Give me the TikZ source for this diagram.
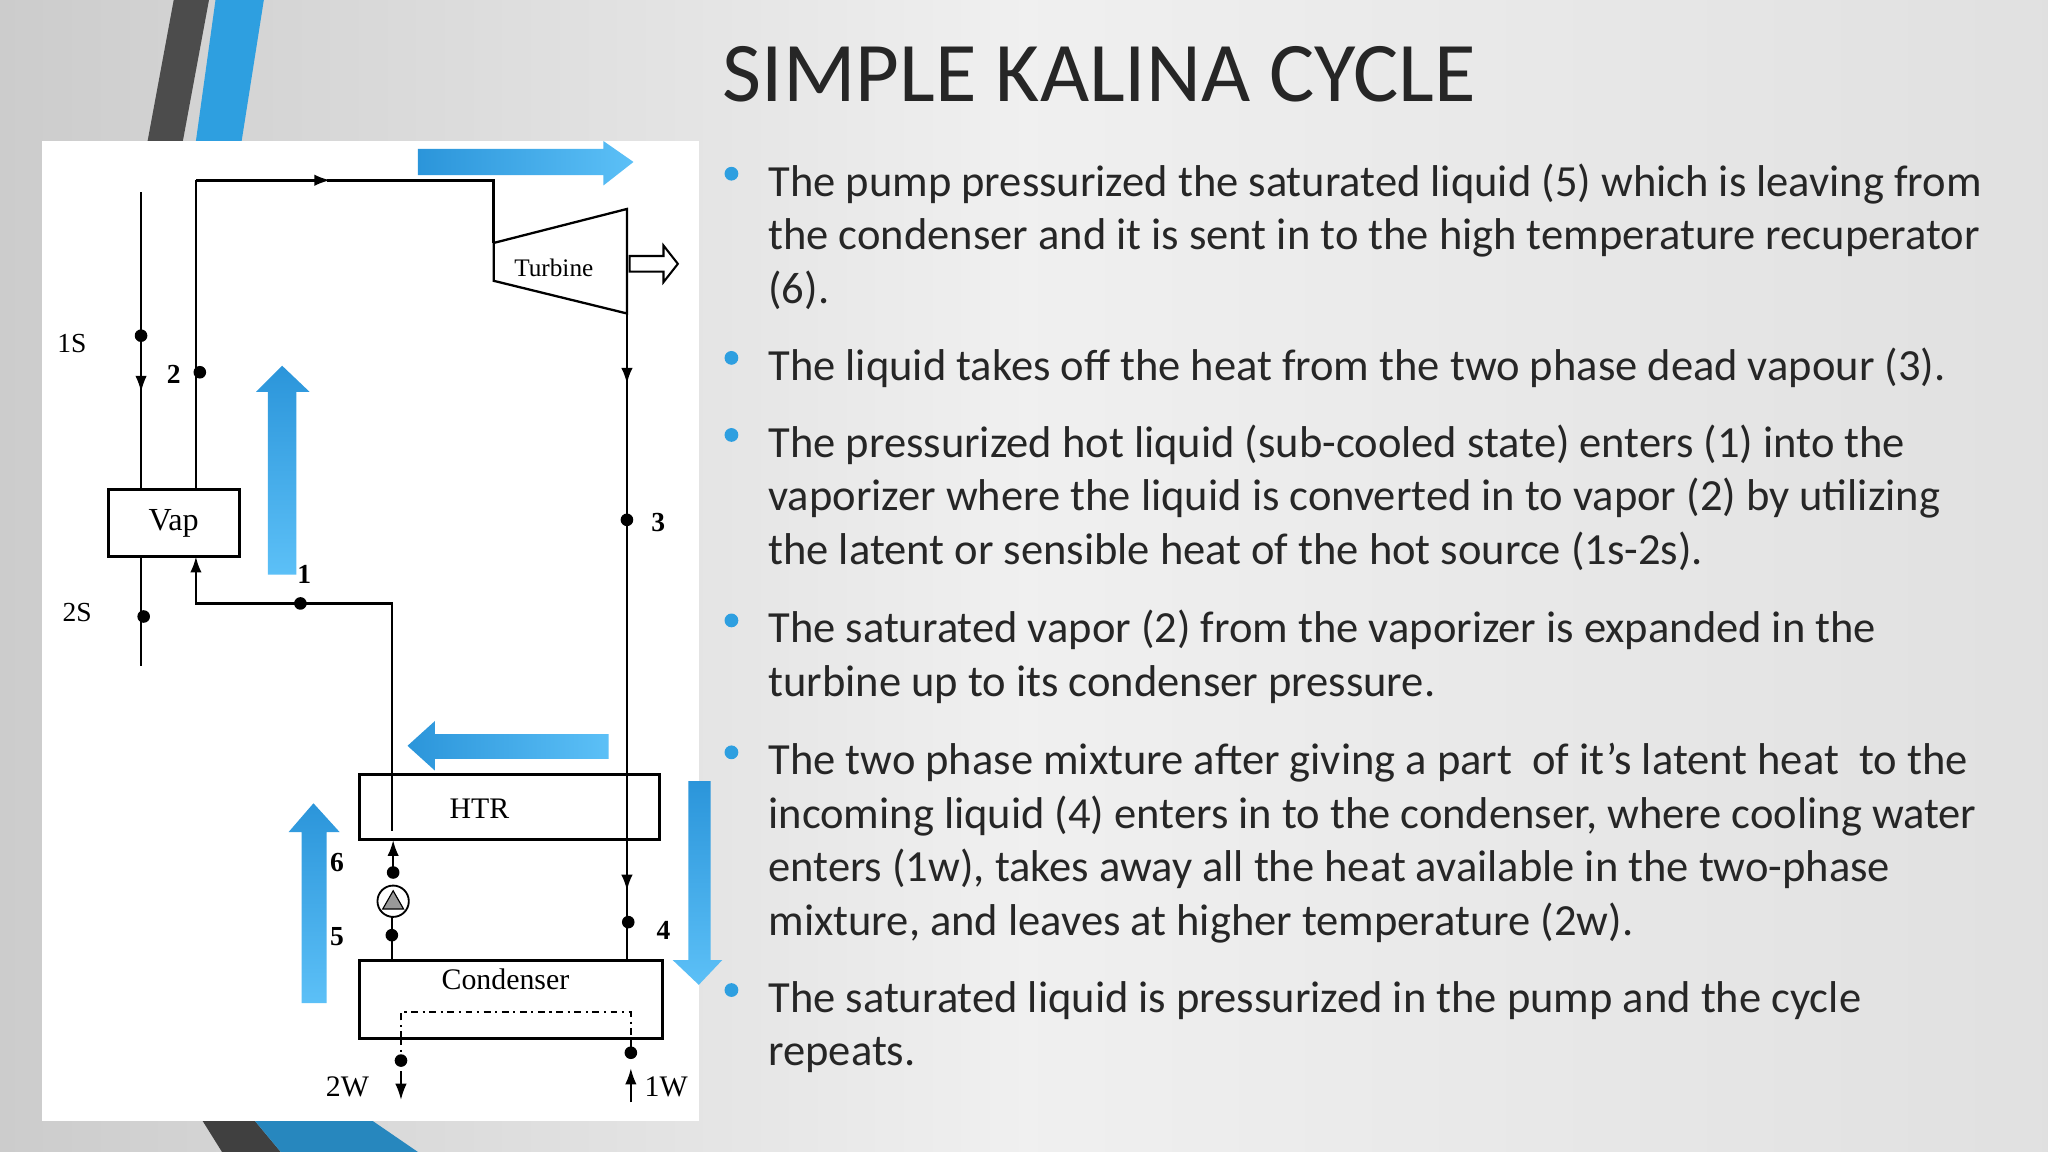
\documentclass[tikz,border=0pt]{standalone}
\usepackage{fontspec}
\setmainfont{Carlito}
\newfontfamily\diagfont{Liberation Serif}
\usetikzlibrary{arrows.meta}
\definecolor{txt}{HTML}{262626}
\definecolor{blueA}{HTML}{2B95DA}
\definecolor{blueB}{HTML}{5CC0F7}
\definecolor{bul}{HTML}{2E9FE0}
\tikzset{
  pipe/.style={line width=1.1pt,black},
  thin/.style={line width=0.7pt,black},
  dotm/.style={circle,fill=black,inner sep=0pt,minimum size=5.5pt},
  box/.style={draw,line width=1.3pt,fill=white,inner sep=0pt},
  lab/.style={font=\diagfont\fontsize{12}{12}\selectfont\bfseries,inner sep=0pt},
  blk/.style={font=\diagfont\fontsize{13}{13}\selectfont,inner sep=0pt},
  bluearr/.style={left color=blueA,right color=blueB,draw=none},
  bluearrv/.style={top color=blueA,bottom color=blueB,draw=none},
  bullettext/.style={font=\fontsize{19.4}{23.3}\selectfont,text=txt,align=left,anchor=base west,inner sep=0pt},
  bulletdot/.style={circle,fill=bul,inner sep=0pt,minimum size=6pt},
  tip/.style={-{Latex[length=7pt,width=5pt]}}
}
\begin{document}
\begin{tikzpicture}[x=0.02cm,y=-0.02cm]
\useasboundingbox (0,0) rectangle (1568,882);
% background
\shade[left color=black!20,right color=black!12,middle color=black!6] (0,0) rectangle (1568,882);
% stripes
\fill[black!70] (133,0) -- (160,0) -- (140,108) -- (113,108) -- cycle;
\fill[bul] (165,0) -- (202,0) -- (185,108) -- (150,108) -- cycle;
\fill[black!75] (155,858) -- (195,858) -- (215,882) -- (170,882) -- cycle;
\fill[bul!85!black] (195,858) -- (285,858) -- (320,882) -- (215,882) -- cycle;
% panel
\fill[white] (32,108) rectangle (535,858);
% hot source line
\draw[thin] (108,147) -- (108,375);
\draw[thin] (108,426) -- (108,510);
% boxes
\node[box,minimum width=100*0.02cm,minimum height=51*0.02cm] (vap) at (133,400.5) {\diagfont\fontsize{14}{14}\selectfont Vap};
\node[draw,line width=1.3pt,minimum width=230*0.02cm,minimum height=50*0.02cm,inner sep=0pt] (htr) at (390,618) {};
\node[blk] at (367,619) {HTR};
\node[box,minimum width=232*0.02cm,minimum height=60*0.02cm] (cond) at (391,765) {};
\node[blk] at (387,750) {Condenser};
\draw[thin,tip] (108,257) -- (108,300);
\node[dotm] (p1s) at (108,257) {};
\node[dotm] (p2s) at (110,472) {};
\node[lab,font=\diagfont\fontsize{12}{12}\selectfont] at (55,263) {1S};
\node[lab,font=\diagfont\fontsize{12}{12}\selectfont] at (59,469) {2S};
% vapour line to turbine
\coordinate (tl) at (150,138);
\coordinate (tr) at (378,138);
\draw[pipe] (150,375) -- (tl);
\draw[pipe,tip] (tl) -- (253,138);
\draw[pipe] (250,138) -- (tr) -- (378,186);
\node[dotm] (p2) at (153,285) {};
\node[lab] at (133,287) {2};
% turbine
\draw[line width=1pt] (378,186) -- (480,160) -- (480,240) -- (378,215) -- cycle;
\node[inner sep=0pt,font=\diagfont\fontsize{11}{11}\selectfont] (turb) at (424,205) {Turbine};
\draw[line width=0.9pt,fill=white] (482,196) -- (508,196) -- (508,188) -- (519,202) -- (508,216) -- (508,208) -- (482,208) -- cycle;
% right line
\draw[pipe,tip] (480,240) -- (480,294);
\draw[pipe] (480,290) -- (480,682);
\draw[pipe,tip] (480,643) -- (480,682);
\draw[pipe] (480,680) -- (480,735);
\node[dotm] (p3) at (480,398) {};
\node[lab] at (504,400) {3};
\node[dotm] (p4) at (481,706) {};
\node[lab] at (508,712) {4};
% line 1 into vap
\draw[pipe] (300,636) -- (300,462) -- (150,462) -- (150,445);
\draw[pipe,tip] (150,450) -- (150,426);
\node[dotm] (p1) at (230,462) {};
\node[lab] at (233,440) {1};
% pump segment
\draw[pipe,tip] (301,670) -- (301,643);
\draw[pipe] (300,700) -- (300,735);
\node[dotm] (p6) at (301,668) {};
\node[dotm] (p5) at (300,716) {};
\node[draw,circle,line width=0.8pt,minimum size=24*0.02cm,inner sep=0pt,fill=white] (pump) at (301,690) {};
\fill[black!40,draw=black,line width=0.5pt] (301,682) -- (309,696) -- (293,696) -- cycle;
\node[lab] at (258,660) {6};
\node[lab] at (258,717) {5};
% cooling water
\draw[line width=0.9pt,dash dot] (307,795) -- (307,775) -- (483,775) -- (483,795);
\draw[line width=0.9pt,dash dot] (307,795) -- (307,812);
\draw[line width=0.9pt] (483,795) -- (483,806);
\node[dotm] (w2) at (307,812) {};
\node[dotm] (w1) at (483,806) {};
\draw[thin,tip] (307,820) -- (307,842);
\draw[thin,tip] (483,844) -- (483,818);
\node[blk] at (266,832) {2W};
\node[blk] at (510,832) {1W};
% blue arrows
\shade[bluearr] (320,114) -- (462,114) -- (462,108) -- (485,124) -- (462,142) -- (462,134) -- (320,134) -- cycle;
\shade[bluearrv] (205,440) -- (205,300) -- (196,300) -- (216,280) -- (237,300) -- (227,300) -- (227,440) -- cycle;
\shade[bluearr] (466,562) -- (333,562) -- (333,552) -- (312,571) -- (333,590) -- (333,581) -- (466,581) -- cycle;
\shade[bluearrv] (231,768) -- (231,637) -- (221,637) -- (240,615) -- (260,637) -- (250,637) -- (250,768) -- cycle;
\shade[bluearrv] (527,598) -- (544,598) -- (544,735) -- (553,735) -- (535,754) -- (515,735) -- (527,735) -- cycle;
% title
\node[anchor=base west,inner sep=0pt,text=txt,font=\fontsize{37}{37}\selectfont] (title) at (553,78) {SIMPLE KALINA CYCLE};
% bullets (anchor = baseline of last line)
\foreach \y in {139,280,339,481,582,764} \node[bulletdot] at (560,\y-6) {};
\node[bullettext] (b1) at (588,232) {The pump pressurized the saturated liquid (5) which is leaving from\\the condenser and it is sent in to the high temperature recuperator\\(6).};
\node[bullettext] (b2) at (588,291) {The liquid takes off the heat from the two phase dead vapour (3).};
\node[bullettext] (b3) at (588,432) {The pressurized hot liquid (sub-cooled state) enters (1) into the\\vaporizer where the liquid is converted in to vapor (2) by utilizing\\the latent or sensible heat of the hot source (1s-2s).};
\node[bullettext] (b4) at (588,533) {The saturated vapor (2) from the vaporizer is expanded in the\\turbine up to its condenser pressure.};
\node[bullettext] (b5) at (588,716) {The two phase mixture after giving a part\ \ of it’s latent heat\ \ to the\\incoming liquid (4) enters in to the condenser, where cooling water\\enters (1w), takes away all the heat available in the two-phase\\mixture, and leaves at higher temperature (2w).};
\node[bullettext] (b6) at (588,816) {The saturated liquid is pressurized in the pump and the cycle\\repeats.};
\end{tikzpicture}
\end{document}
